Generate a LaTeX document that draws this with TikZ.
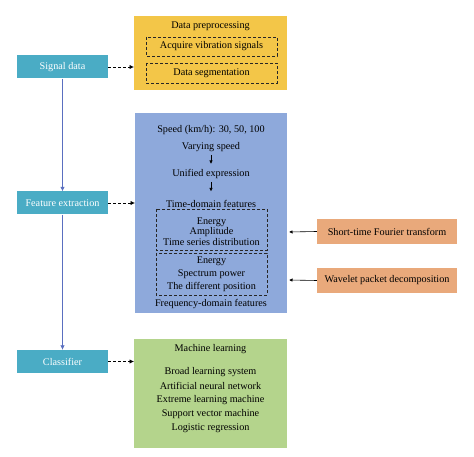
\documentclass[tikz,border=0pt]{standalone}
\usepackage{fontspec}
\setmainfont{Liberation Serif}
\usetikzlibrary{arrows.meta}
\definecolor{tealbox}{HTML}{4AACC5}
\definecolor{yelbox}{HTML}{F3C648}
\definecolor{bluebox}{HTML}{8EA9DB}
\definecolor{orgbox}{HTML}{E9A97B}
\definecolor{grnbox}{HTML}{B4D48C}
\definecolor{vline}{HTML}{5A6FC0}
\newcommand{\fsz}{\fontsize{10.2}{12}\selectfont}
\tikzset{
  leftbox/.style={fill=tealbox, text=white, minimum width=91pt, minimum height=23pt, inner sep=0pt, font=\fsz},
  lbl/.style={inner sep=0pt, font=\fsz, align=center},
  dbox/.style={draw=black!85, dash pattern=on 3pt off 2pt, line width=0.8pt, inner sep=0pt},
  orbox/.style={fill=orgbox, minimum width=140pt, minimum height=25pt, inner sep=0pt, font=\fsz},
  darr/.style={dash pattern=on 3pt off 2pt, line width=0.8pt, -{Latex[length=4.5pt,width=4.5pt]}},
  sarr/.style={line width=0.6pt, -{Latex[length=3.5pt,width=3.5pt]}},
  varr/.style={draw=vline, line width=0.7pt, -{Latex[length=4.5pt,width=4.5pt]}}
}
\begin{document}
\begin{tikzpicture}[x=1pt,y=-1pt]
\useasboundingbox (0,0) rectangle (474,457);
% left column
\node[leftbox] (sig) at (62.5,67) {Signal data};
\node[leftbox] (feat) at (62.5,203) {Feature extraction};
\node[leftbox] (cls) at (62.5,361.5) {Classifier};
% yellow
\fill[yelbox] (134,16) rectangle (287,90);
\coordinate (yl) at (134,67);
\node[lbl] (ytitle) at (210.5,26) {Data preprocessing};
\draw[dbox] (146,37) rectangle (277,56);
\node[lbl] (acq) at (211.5,46.5) {Acquire vibration signals};
\draw[dbox] (146,63) rectangle (277,83);
\node[lbl] (seg) at (211.5,73) {Data segmentation};
% blue
\fill[bluebox] (135,113) rectangle (287,313);
\coordinate (bl) at (135,203);
\coordinate (br1) at (289,232);
\coordinate (br2) at (289,280);
\node[lbl] (spd) at (211,130) {Speed (km/h): 30, 50, 100};
\node[lbl] (vary) at (211,147) {Varying speed};
\node[lbl] (unif) at (211,174) {Unified expression};
\node[lbl] (tdf) at (211,204) {Time-domain features};
\draw[sarr] (211,155) coordinate (va) -- (211,164) coordinate (vb);
\draw[sarr] (211,182) coordinate (ua) -- (211,191.5) coordinate (ub);
\draw[dbox] (156,209) rectangle (267,250);
\node[lbl] (en1) at (211.5,222) {Energy};
\node[lbl] (amp) at (211.5,232) {Amplitude};
\node[lbl] (tsd) at (211.5,242) {Time series distribution};
\draw[dbox] (156,253) rectangle (267,295);
\node[lbl] (en2) at (211.5,261.5) {Energy};
\node[lbl] (spw) at (211.5,274) {Spectrum power};
\node[lbl] (dpos) at (211.5,287) {The different position};
\node[lbl] (fdf) at (211,304) {Frequency-domain features};
% orange
\node[orbox] (stft) at (387,231.5) {Short-time Fourier transform};
\node[orbox] (wpd) at (387,280.5) {Wavelet packet decomposition};
% green
\fill[grnbox] (134,339) rectangle (287,448);
\coordinate (gl) at (134,361.5);
\node[lbl] (ml) at (210.5,349) {Machine learning};
\node[lbl] (bls) at (210.5,372) {Broad learning system};
\node[lbl] (ann) at (210.5,386) {Artificial neural network};
\node[lbl] (elm) at (210.5,400) {Extreme learning machine};
\node[lbl] (svm) at (210.5,414) {Support vector machine};
\node[lbl] (lr) at (210.5,428) {Logistic regression};
% connectors
\draw[darr] (sig.east) -- (yl);
\draw[darr] (feat.east) -- (bl);
\draw[darr] (cls.east) -- (gl);
\draw[varr] (sig.south) -- (feat.north);
\draw[varr] (feat.south) -- (cls.north);
\draw[sarr] (stft.west) -- (br1);
\draw[sarr] (wpd.west) -- (br2);
\end{tikzpicture}
\end{document}
